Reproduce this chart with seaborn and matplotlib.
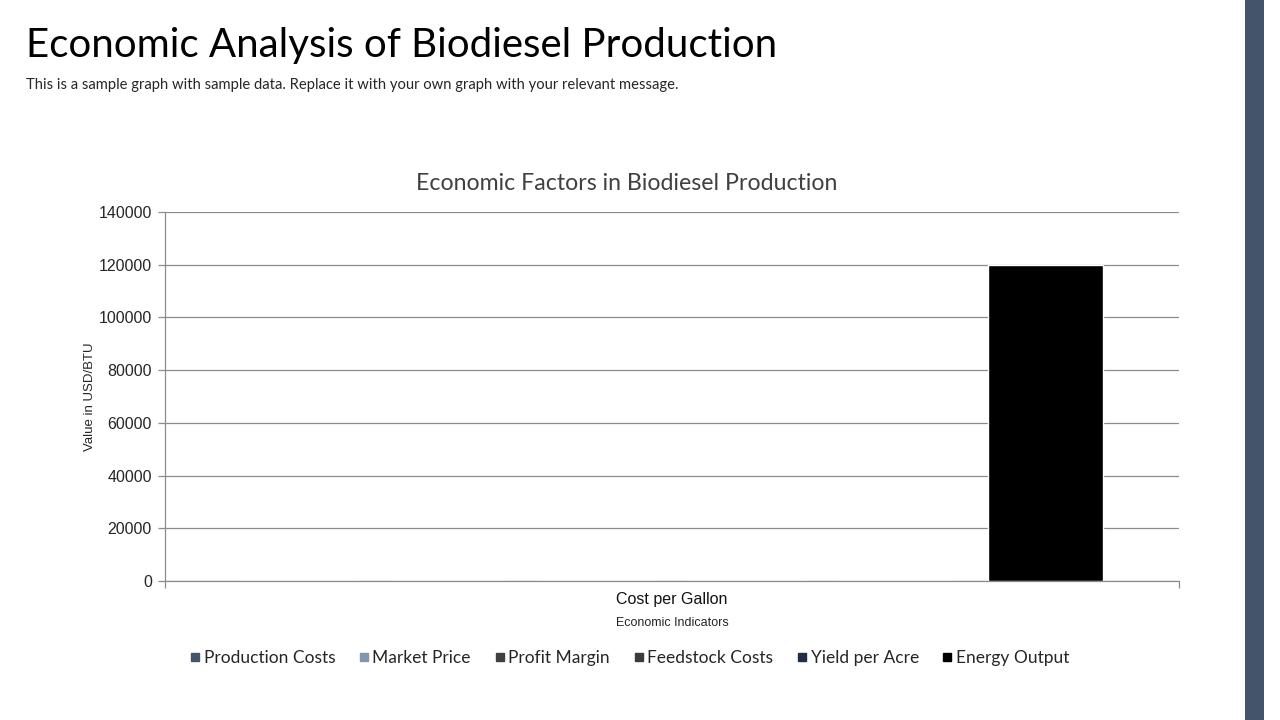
import numpy as np
import pandas as pd
import matplotlib
matplotlib.use("Agg")
import matplotlib.pyplot as plt
from matplotlib.lines import Line2D
from matplotlib.patches import Rectangle
import seaborn as sns

# ---------------- data ----------------
categories = ["Cost per Gallon"]
series = ["Production Costs", "Market Price", "Profit Margin",
          "Feedstock Costs", "Yield per Acre", "Energy Output"]
values = [3.5, 4.2, 0.7, 2.5, 100, 120000]
colors = ["#44546A", "#8497B0", "#404040", "#3B3B3B", "#1F2D46", "#000000"]
yticks = [0, 20000, 40000, 60000, 80000, 100000, 120000, 140000]

sns.set_theme(style="white")
plt.rcParams["font.family"] = ["Liberation Sans", "DejaVu Sans"]
title_font = ["Lato", "DejaVu Sans"]

W, H = 1280, 720
fig = plt.figure(figsize=(W / 100, H / 100), dpi=100)
fig.patch.set_facecolor("white")

L, R, T, B = 165, 1179, 212, 581
ax = fig.add_axes([L / W, 1 - B / H, (R - L) / W, (B - T) / H])

df = pd.DataFrame({
    "Indicator": categories * len(series),
    "Series": series,
    "Value": values,
})
sns.barplot(data=df, x="Indicator", y="Value", hue="Series", hue_order=series,
            palette=colors, saturation=1, width=0.883, gap=0.23,
            errorbar=None, legend=False, ax=ax, zorder=3)

ax.set_xlim(-0.5, 0.5)
ax.set_ylim(0, 140000)
ax.set_yticks(yticks)
ax.set_yticklabels([str(v) for v in yticks], fontsize=11.5, color="#262626")
ax.yaxis.grid(True, color="#8C8C8C", linewidth=0.9, zorder=0)
ax.xaxis.grid(False)
for s in ["top", "right"]:
    ax.spines[s].set_visible(False)
for s in ["left", "bottom"]:
    ax.spines[s].set_color("#8C8C8C")
    ax.spines[s].set_linewidth(0.9)
ax.tick_params(axis="y", which="major", length=5, width=0.9, color="#8C8C8C",
               direction="out", pad=4.5, left=True)
ax.set_xticks([0])
ax.set_xticklabels(categories, fontsize=11.5, color="#111111")
ax.tick_params(axis="x", which="major", length=0, pad=8)
ax.set_xticks([-0.5, 0.5], minor=True)
ax.tick_params(axis="x", which="minor", length=5, width=0.9, color="#8C8C8C",
               direction="out", bottom=True)

ax.set_xlabel("Economic Indicators", fontsize=9, color="#262626")
ax.xaxis.set_label_coords(0.5, (B - 617) / (B - T))
ax.set_ylabel("Value in USD/BTU", fontsize=9.5, color="#262626")
ax.yaxis.set_label_coords((96 - L) / (R - L), 0.5)

# chart title
fig.text(627 / W, 1 - 184 / H, "Economic Factors in Biodiesel Production",
         ha="center", va="center", fontsize=16.7, color="#404040",
         family=title_font)

# slide title and subtitle
fig.text(26 / W, 1 - 46 / H, "Economic Analysis of Biodiesel Production",
         ha="left", va="center", fontsize=29, color="#000000", family=title_font)
fig.text(26 / W, 1 - 85 / H,
         "This is a sample graph with sample data. Replace it with your own graph with your relevant message.",
         ha="left", va="center", fontsize=10.6, color="#262626", family=title_font)

# legend
handles = [Line2D([0], [0], marker="s", linestyle="none", markersize=6,
                  markerfacecolor=c, markeredgecolor=c) for c in colors]
fig.legend(handles, series, loc="center", bbox_to_anchor=(630 / W, 1 - 658 / H),
           ncol=6, frameon=False, handlelength=0.5,
           handletextpad=0.25, columnspacing=1.4,
           prop={"family": title_font, "size": 12.5})

# right decorative bar
fig.patches.append(Rectangle((1245 / W, 0), 19 / W, 1, transform=fig.transFigure,
                             facecolor="#44546A", edgecolor="none", zorder=0))

fig.savefig("out.png", dpi=100, facecolor="white")
